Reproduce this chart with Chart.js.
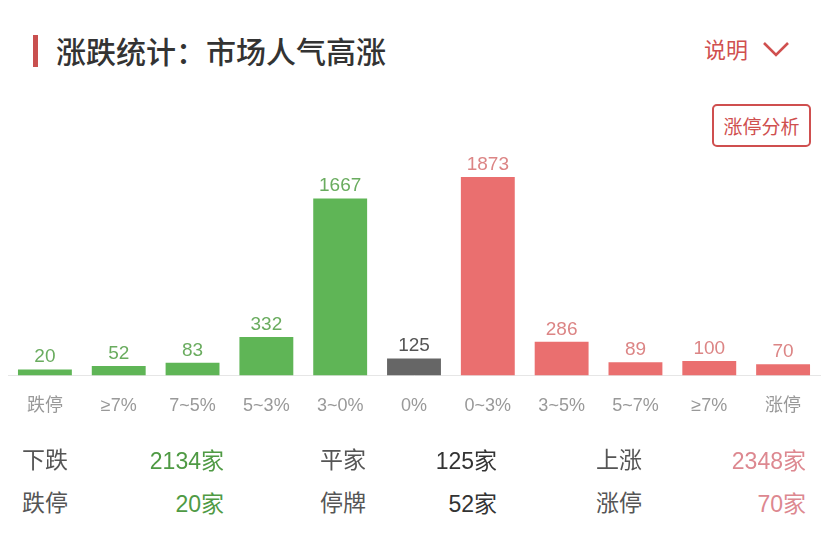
<!DOCTYPE html>
<html>
<head>
<meta charset="utf-8">
<script src="https://cdn.jsdelivr.net/npm/chart.js@4.4.0/dist/chart.umd.min.js"></script>
<style>
    body { margin: 0; background: #fff; }
    #page { position: relative; width: 828px; height: 549px; overflow: hidden; font-family: "Noto Sans CJK SC", "Noto Sans", sans-serif; }
    .abs { position: absolute; white-space: nowrap; }
    #titleBar { left: 33px; top: 35px; width: 5px; height: 32px; background: #c9504f; }
    #title { left: 56px; top: 30px; font-size: 30px; line-height: 40px; color: #333; font-weight: 500; }
    #explain { left: 704px; top: 33px; font-size: 22px; line-height: 30px; color: #d0504f; }
    #chevron { left: 758px; top: 38px; }
    #btn { left: 712px; top: 104px; width: 95px; height: 39px; border: 2px solid #cf4f4f; border-radius: 5px;
           font-size: 19px; line-height: 39px; color: #cf4f4f; text-align: center; }
    #chartBox { left: 0; top: 150px; width: 828px; height: 293px; }
    .statLabel { font-size: 23px; line-height: 30px; color: #555; }
    .statValue { font-size: 23px; line-height: 30px; text-align: right; font-family: "Liberation Sans", "Noto Sans CJK SC", sans-serif; }
</style>
</head>
<body>
<div id="page">
    <div class="abs" id="titleBar"></div>
    <div class="abs" id="title">涨跌统计：市场人气高涨</div>
    <div class="abs" id="explain">说明</div>
    <svg class="abs" id="chevron" width="36" height="22">
        <polyline points="6,5 18,17 30,5" fill="none" stroke="#d0504f" stroke-width="2.6"/>
    </svg>
    <div class="abs" id="btn">涨停分析</div>
    <div class="abs" id="chartBox"><canvas id="barChart" width="828" height="293"></canvas></div>
    <div id="stats"></div>
</div>
<script>
// bar chart data
const categories = ['跌停', '≥7%', '7~5%', '5~3%', '3~0%', '0%', '0~3%', '3~5%', '5~7%', '≥7%', '涨停'];
const counts = [20, 52, 83, 332, 1667, 125, 1873, 286, 89, 100, 70];
const groups = ['down', 'down', 'down', 'down', 'down', 'flat', 'up', 'up', 'up', 'up', 'up'];

// summary table below the chart
const statLabels = [['下跌', '平家', '上涨'], ['跌停', '停牌', '涨停']];
const statValues = [[2134, 125, 2348], [20, 52, 70]];
const statGroups = ['down', 'flat', 'up'];

const barColor = { down: '#5fb556', flat: '#666666', up: '#ea6f6f' };
const labelColor = { down: '#6aac5f', flat: '#555555', up: '#dc8585' };
const statColor = { down: '#4f9a44', flat: '#333333', up: '#dd8890' };

const numFont = '"Liberation Sans", "Noto Sans CJK SC", sans-serif';

// value labels above each bar
const valueLabels = {
    id: 'valueLabels',
    afterDatasetsDraw(chart) {
        const ctx = chart.ctx;
        const meta = chart.getDatasetMeta(0);
        ctx.save();
        ctx.font = '19px ' + numFont;
        ctx.textAlign = 'center';
        ctx.textBaseline = 'alphabetic';
        meta.data.forEach((bar, i) => {
            ctx.fillStyle = labelColor[groups[i]];
            ctx.fillText(counts[i], bar.x, bar.y - 7);
        });
        ctx.restore();
    }
};

const yMin = -38;

new Chart(document.getElementById('barChart').getContext('2d'), {
    type: 'bar',
    data: {
        labels: categories,
        datasets: [{
            data: counts,
            base: yMin,
            backgroundColor: groups.map(g => barColor[g]),
            borderWidth: 0,
            barPercentage: 0.73,
            categoryPercentage: 1.0
        }]
    },
    options: {
        responsive: false,
        animation: false,
        layout: { padding: { left: 8, right: 8, top: 20, bottom: 6 } },
        plugins: { legend: { display: false }, tooltip: { enabled: false } },
        scales: {
            x: {
                grid: { display: false, drawTicks: false },
                border: { display: true, color: '#e6e6e6', width: 1 },
                ticks: {
                    color: '#999999',
                    padding: 20,
                    font: { size: 18, family: numFont }
                }
            },
            y: {
                display: false,
                min: yMin,
                max: 1941
            }
        }
    },
    plugins: [valueLabels]
});

// summary rows
const stats = document.getElementById('stats');
const labelX = [22, 320, 596];
const valueRight = [224, 497, 806];
const rowTop = [443, 486];
statLabels.forEach((row, r) => {
    row.forEach((label, c) => {
        const l = document.createElement('div');
        l.className = 'abs statLabel';
        l.style.left = labelX[c] + 'px';
        l.style.top = rowTop[r] + 'px';
        l.textContent = label;
        stats.appendChild(l);

        // Liberation digits sit higher in the line box than the CJK labels
        const v = document.createElement('div');
        v.className = 'abs statValue';
        v.style.right = (828 - valueRight[c]) + 'px';
        v.style.top = (rowTop[r] + 3) + 'px';
        v.style.color = statColor[statGroups[c]];
        v.textContent = statValues[r][c] + '家';
        stats.appendChild(v);
    });
});
</script>
</body>
</html>
